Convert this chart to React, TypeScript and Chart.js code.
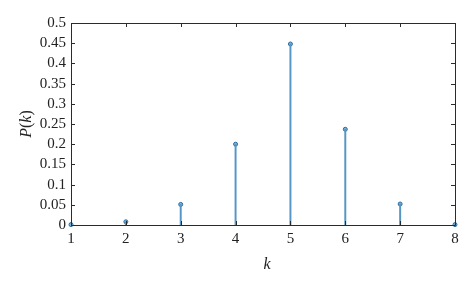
import React, { useEffect, useRef } from "react";
import { Chart, registerables } from "chart.js";

Chart.register(...registerables);

const kValues = [1, 2, 3, 4, 5, 6, 7, 8];
const probabilities = [0.001, 0.008, 0.051, 0.2, 0.448, 0.237, 0.052, 0.001];
const yTicks = [0, 0.05, 0.1, 0.15, 0.2, 0.25, 0.3, 0.35, 0.4, 0.45, 0.5];
const xTicks = [1, 2, 3, 4, 5, 6, 7, 8];

const STEM = "#5596c6";
const AXIS = "#2b2b2b";
const FONT = "'Liberation Serif', 'Times New Roman', serif";

const framePlugin = {
  id: "frame",
  afterDatasetsDraw(chart: any) {
    const { ctx, chartArea: a, scales } = chart;
    ctx.save();
    ctx.strokeStyle = AXIS;
    ctx.lineWidth = 1;
    ctx.beginPath();
    ctx.rect(a.left + 0.5, a.top + 0.5, a.right - a.left, a.bottom - a.top);
    ctx.stroke();
    const L = 4;
    ctx.beginPath();
    for (const t of xTicks) {
      const x = Math.round(scales.x.getPixelForValue(t)) + 0.5;
      ctx.moveTo(x, a.bottom);
      ctx.lineTo(x, a.bottom - L);
      ctx.moveTo(x, a.top);
      ctx.lineTo(x, a.top + L);
    }
    for (const t of yTicks) {
      const y = Math.round(scales.y.getPixelForValue(t)) + 0.5;
      ctx.moveTo(a.left, y);
      ctx.lineTo(a.left + L, y);
      ctx.moveTo(a.right, y);
      ctx.lineTo(a.right - L, y);
    }
    ctx.stroke();
    ctx.restore();
  },
  afterDraw(chart: any) {
    const { ctx, chartArea: a } = chart;
    ctx.save();
    ctx.fillStyle = "#222";
    ctx.textBaseline = "middle";
    ctx.font = `italic 16px ${FONT}`;
    ctx.textAlign = "center";
    ctx.fillText("k", (a.left + a.right) / 2 + 4, 265);
    ctx.translate(27, (a.top + a.bottom) / 2);
    ctx.rotate(-Math.PI / 2);
    const parts: [string, boolean][] = [["P", true], ["(", false], ["k", true], [")", false]];
    let total = 0;
    for (const [s, it] of parts) {
      ctx.font = `${it ? "italic " : ""}16px ${FONT}`;
      total += ctx.measureText(s).width;
    }
    let x = -total / 2;
    ctx.textAlign = "left";
    for (const [s, it] of parts) {
      ctx.font = `${it ? "italic " : ""}16px ${FONT}`;
      ctx.fillText(s, x, 0);
      x += ctx.measureText(s).width;
    }
    ctx.restore();
  },
};

export default function App() {
  const ref = useRef<HTMLCanvasElement | null>(null);
  useEffect(() => {
    document.body.style.margin = "0";
    const points = kValues.map((k, i) => ({ x: k, y: probabilities[i] }));
    const chart = new Chart(ref.current as HTMLCanvasElement, {
      type: "bar",
      data: {
        datasets: [
          {
            type: "bar",
            data: points,
            backgroundColor: STEM,
            barThickness: 1.3,
            borderWidth: 0,
          } as any,
          {
            type: "scatter",
            data: points,
            pointRadius: 2,
            pointBackgroundColor: "#7fb2d8",
            pointBorderColor: "#2c6c9c",
            pointBorderWidth: 1,
            showLine: false,
            clip: false,
          } as any,
        ],
      },
      options: {
        animation: false,
        responsive: false,
        maintainAspectRatio: false,
        layout: { padding: { left: 0, top: 23, right: 19, bottom: 0 } },
        plugins: { legend: { display: false }, tooltip: { enabled: false } },
        scales: {
          x: {
            type: "linear",
            min: 1,
            max: 8,
            offset: false,
            afterFit: (s: any) => { s.height = 60; },
            afterBuildTicks: (s: any) => { s.ticks = xTicks.map((v) => ({ value: v })); },
            grid: { display: false, drawTicks: false },
            border: { display: false },
            ticks: { color: "#222", font: { family: FONT, size: 15 }, padding: 5, maxRotation: 0, autoSkip: false },
          },
          y: {
            type: "linear",
            min: 0,
            max: 0.5,
            afterFit: (s: any) => { s.width = 71; },
            afterBuildTicks: (s: any) => { s.ticks = yTicks.map((v) => ({ value: v })); },
            grid: { display: false, drawTicks: false },
            border: { display: false },
            ticks: {
              color: "#222",
              font: { family: FONT, size: 15 },
              padding: 5,
              autoSkip: false,
              callback: (v: any) => String(Math.round(Number(v) * 100) / 100),
            },
          },
        },
      } as any,
      plugins: [framePlugin],
    });
    return () => chart.destroy();
  }, []);
  return <canvas ref={ref} width={474} height={285} style={{ display: "block" }} />;
}
